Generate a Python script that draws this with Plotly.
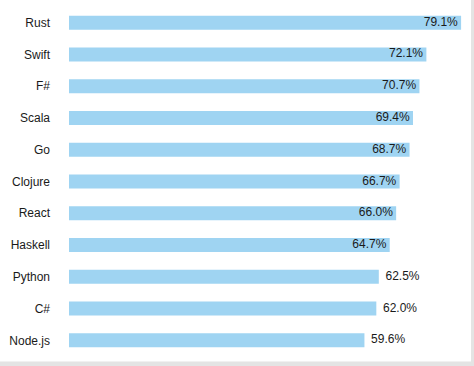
import plotly.graph_objects as go

languages = ["Rust", "Swift", "F#", "Scala", "Go", "Clojure", "React", "Haskell", "Python", "C#", "Node.js"]
values = [79.1, 72.1, 70.7, 69.4, 68.7, 66.7, 66.0, 64.7, 62.5, 62.0, 59.6]
label_sides = ["middle left"] * 8 + ["middle right"] * 3

FONT = "Liberation Sans, Arial, sans-serif"
W, H = 474, 366
ml, mr, mt, mb = 69, 3, 5, 8

fig = go.Figure()
fig.add_trace(go.Bar(
    y=languages,
    x=values,
    orientation="h",
    marker=dict(color="#9fd4f2", line=dict(width=0)),
    hoverinfo="skip",
))
fig.add_trace(go.Scatter(
    y=languages,
    x=values,
    mode="text",
    text=[(f"{v:.1f}% " if s == "middle left" else f"  {v:.1f}%") for v, s in zip(values, label_sides)],
    textposition=label_sides,
    textfont=dict(family=FONT, size=12, color="#1a1a1a"),
    cliponaxis=False,
    hoverinfo="skip",
))

pw = W - ml - mr
ph = H - mt - mb
fig.update_layout(
    width=W, height=H,
    margin=dict(l=ml, r=mr, t=mt, b=mb, pad=0, autoexpand=False),
    paper_bgcolor="white",
    plot_bgcolor="white",
    bargap=0.56,
    showlegend=False,
    xaxis=dict(range=[0, 81.1], visible=False, showgrid=False, zeroline=False, automargin=False),
    yaxis=dict(
        autorange="reversed", automargin=False,
        showgrid=False, zeroline=False, showline=False,
        ticks="", ticklabelstandoff=18,
        tickfont=dict(family=FONT, size=12, color="#1a1a1a"),
    ),
    shapes=[
        dict(type="rect", xref="paper", yref="paper",
             x0=1.0, x1=1.0 + 4 / pw, y0=-(mb + 1) / ph, y1=1 + (mt + 1) / ph,
             fillcolor="#e4e4e4", line=dict(width=0), layer="above"),
        dict(type="rect", xref="paper", yref="paper",
             x0=-(ml + 1) / pw, x1=1.0 + 4 / pw, y0=-(mb + 1) / ph, y1=-(mb - 4.5) / ph,
             fillcolor="#e4e4e4", line=dict(width=0), layer="above"),
    ],
)

fig.write_html(
    "out.html",
    config={"displayModeBar": False},
    post_script="document.body.style.margin='0';document.body.style.overflow='hidden';",
)
